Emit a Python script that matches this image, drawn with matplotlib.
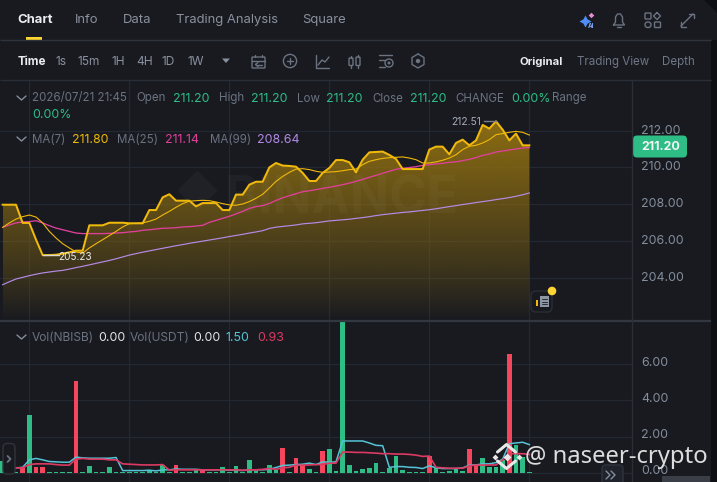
import numpy as np
import matplotlib
matplotlib.use("Agg")
import matplotlib.pyplot as plt
from matplotlib.colors import to_rgb
from matplotlib.patches import Rectangle, FancyBboxPatch, Circle, Polygon

# ---------- data ----------
price = [207.97,207.97,207.97,206.98,206.98,206.07,205.23,205.23,205.25,205.31,205.38,205.47,205.47,206.85,206.85,206.85,
         206.99,206.99,206.99,206.96,206.96,206.96,207.68,207.68,208.37,208.54,208.19,208.19,208.19,207.88,208.06,208.06,
         208.06,207.68,207.68,208.52,208.52,209.06,209.22,209.22,210.00,210.24,210.10,210.08,210.04,209.70,209.26,209.26,
         209.70,209.97,210.40,210.40,210.28,209.73,210.42,210.82,210.84,210.86,210.68,210.46,209.91,209.91,209.91,209.91,
         210.97,211.13,211.13,210.71,211.33,211.51,211.20,211.47,212.31,212.11,212.51,212.05,211.47,211.84,211.20,211.20]
ma7 = [206.74,206.98,207.19,207.32,207.41,207.30,206.98,206.52,206.16,205.85,205.62,205.40,205.34,205.62,205.85,206.07,
       206.29,206.52,206.76,206.94,206.96,206.98,207.07,207.19,207.41,207.61,207.83,208.03,208.16,208.19,208.21,208.19,
       208.12,208.03,207.96,207.94,208.01,208.14,208.32,208.54,208.88,209.24,209.51,209.73,209.91,209.93,209.88,209.79,
       209.73,209.75,209.77,209.82,209.88,209.91,210.15,210.33,210.42,210.49,210.53,210.55,210.57,210.51,210.42,210.24,
       210.24,210.30,210.39,210.51,210.69,210.97,211.15,211.20,211.33,211.51,211.78,211.84,211.91,211.96,211.91,211.76]
ma25 = [206.74,206.87,206.98,207.03,207.05,207.10,206.98,206.83,206.70,206.61,206.52,206.43,206.40,206.40,206.40,206.40,
        206.41,206.43,206.45,206.49,206.52,206.58,206.61,206.65,206.69,206.70,206.72,206.76,206.78,206.81,206.85,207.01,
        207.12,207.23,207.34,207.47,207.61,207.77,207.87,207.92,208.04,208.20,208.35,208.46,208.57,208.68,208.73,208.79,
        208.86,208.92,208.99,209.06,209.15,209.24,209.35,209.46,209.57,209.68,209.79,209.90,209.95,209.99,210.04,210.11,
        210.15,210.19,210.22,210.28,210.30,210.37,210.44,210.53,210.66,210.73,210.84,210.89,210.95,211.00,211.06,211.08]
ma99 = [203.62,203.78,203.93,204.02,204.11,204.19,204.26,204.31,204.36,204.40,204.47,204.55,204.62,204.70,204.78,204.86,
        204.94,205.03,205.13,205.23,205.31,205.39,205.46,205.53,205.60,205.67,205.74,205.80,205.87,205.93,205.99,206.05,
        206.11,206.17,206.24,206.30,206.36,206.43,206.49,206.56,206.68,206.75,206.79,206.83,206.87,206.93,206.96,206.99,
        207.04,207.09,207.12,207.15,207.18,207.23,207.27,207.32,207.38,207.43,207.47,207.51,207.55,207.58,207.62,207.66,
        207.70,207.75,207.81,207.87,207.92,207.98,208.03,208.09,208.14,208.19,208.25,208.30,208.36,208.43,208.51,208.61]
volume = [0.67,0.06,0.07,0.26,3.17,0.35,0.35,0.06,0.06,0.06,0.06,5.04,0.07,0.39,0.06,0.06,
          0.31,0.06,0.06,0.06,0.06,0.06,0.09,0.06,0.44,0.07,0.46,0.06,0.06,0.20,0.17,0.06,
          0.06,0.30,0.07,0.39,0.07,0.70,0.09,0.07,0.46,0.17,1.37,0.07,0.83,0.44,0.24,0.06,
          1.22,1.33,0.11,8.40,0.44,0.11,0.20,0.28,0.54,0.07,0.26,0.91,0.17,0.07,0.07,0.07,
          0.91,0.31,0.06,0.09,0.20,0.13,1.31,0.48,0.83,0.30,0.31,0.72,6.55,1.55,0.85,0.06]
is_up = [1,1,1,0,1,0,0,1,1,1,1,0,1,1,1,1,
         1,1,1,1,1,1,1,1,1,1,0,1,1,1,0,1,
         1,1,1,1,1,1,1,1,1,1,0,1,0,0,1,1,
         0,1,1,1,1,1,1,1,1,1,1,1,1,1,1,1,
         0,1,1,1,1,1,0,0,1,1,1,1,0,1,1,1]
vol_ma_cyan = [np.nan,np.nan,0.28,0.31,0.72,0.80,0.72,0.63,0.61,0.59,0.59,0.87,0.83,0.81,0.81,0.81,
               0.81,0.85,0.13,0.13,0.13,0.13,0.15,0.11,0.17,0.17,0.22,0.20,0.20,0.20,0.17,0.17,
               0.17,0.17,0.15,0.15,0.13,0.17,0.17,0.17,0.20,0.30,0.41,0.43,0.46,0.48,0.54,0.46,
               0.61,0.59,0.61,1.76,1.76,1.76,1.76,1.65,1.52,1.50,0.31,0.35,0.35,0.31,0.30,0.24,
               0.39,0.28,0.24,0.24,0.24,0.28,0.43,0.44,0.50,0.50,0.57,0.76,1.61,1.65,1.69,1.56]
vol_ma_red = [np.nan,np.nan,0.28,0.28,0.46,0.50,0.50,0.50,0.46,0.43,0.43,0.76,0.80,0.76,0.76,0.76,
              0.72,0.72,0.50,0.48,0.46,0.44,0.44,0.44,0.46,0.15,0.17,0.17,0.17,0.17,0.17,0.17,
              0.17,0.17,0.17,0.17,0.15,0.17,0.17,0.20,0.24,0.20,0.28,0.31,0.43,0.43,0.44,0.46,
              0.46,0.54,0.54,1.15,1.15,1.13,1.13,1.11,1.09,1.06,1.06,1.04,1.04,1.02,0.98,0.91,
              0.93,0.31,0.28,0.26,0.26,0.26,0.39,0.43,0.43,0.44,0.44,0.72,1.06,1.06,1.06,1.02]
price_ticks = [204, 206, 208, 210, 212]
vol_ticks = [0, 2, 4, 6]
tabs = ["Chart", "Info", "Data", "Trading Analysis", "Square"]
intervals = ["1s", "15m", "1H", "4H", "1D", "1W"]

# ---------- style ----------
W, H = 717, 482
BG = "#181a20"
GRID = "#242830"
LINE = "#2f343c"
GREY = "#848e9c"
MUTED = "#6b7280"
GREEN = "#2ebd85"
RED = "#f6465d"
GOLD = "#f0b90b"
LBL = 8.3
VAL = 8.9
plt.rcParams["font.family"] = ["Inter", "DejaVu Sans"]

fig = plt.figure(figsize=(W / 100, H / 100), dpi=100, facecolor=BG)

def axes_px(x0, y0, x1, y1, **kw):
    return fig.add_axes([x0 / W, 1 - y1 / H, (x1 - x0) / W, (y1 - y0) / H], **kw)

x = np.arange(len(price))
XLIM = (-0.4, 94.4)
grid_idx = [4, 19, 34, 49, 64, 79]

# ---------- price panel ----------
ax = axes_px(0, 81, 632, 320, facecolor=BG)
ax.set_xlim(*XLIM)
ax.set_ylim(201.70, 214.70)
ax.set_xticks(grid_idx)
ax.set_yticks(price_ticks)
ax.set_axisbelow(True)
ax.grid(True, color=GRID, lw=0.9, zorder=0)
ax.tick_params(length=0, labelbottom=False, labelleft=False)
for s in ax.spines.values():
    s.set_visible(False)

poly = ax.fill_between(x, price, 201.70, color="none", zorder=1)
rgb = to_rgb("#8f6f12")
alpha = 0.98 * np.linspace(1.0, 0.0, 256) ** 0.85
img = np.zeros((256, 2, 4))
img[..., :3] = rgb
img[..., 3] = alpha[:, None]
im = ax.imshow(img, extent=(x[0], x[-1], 201.70, 212.6), origin="upper", aspect="auto", zorder=1.5)
im.set_clip_path(poly.get_paths()[0], transform=ax.transData)
ax.set_xlim(*XLIM)
ax.set_ylim(201.70, 214.70)

ax.text(33.3, 208.2, "BINANCE", color="#ffffff", alpha=0.03, fontsize=37, fontweight="bold",
        va="center", ha="left", zorder=2)
ax.scatter([29.1], [208.79], marker="D", s=420, color="#ffffff", alpha=0.03, linewidths=0, zorder=2)

ax.plot(x, ma99, color="#b58ae8", lw=0.85, zorder=3)
ax.plot(x, ma25, color="#e0409b", lw=0.95, zorder=3)
ax.plot(x, ma7, color="#f0b90b", lw=0.8, zorder=4)
ax.plot(x, price, color=GOLD, lw=1.45, zorder=5, solid_joinstyle="round")

ax.plot([6, 8.4], [205.23, 205.23], color="#d8d8d8", lw=1.0, zorder=6)
ax.text(8.3, 205.15, "205.23", color="#eaecef", fontsize=7.2, va="center", ha="left", zorder=7)
ax.plot([72.2, 74.0], [212.51, 212.51], color="#777e8a", lw=1.0, zorder=6)
ax.text(71.7, 212.45, "212.51", color="#a4abb6", fontsize=7.4, va="center", ha="right", zorder=7)

# ---------- volume panel ----------
vx = axes_px(0, 321, 632, 482, facecolor=BG)
vx.set_xlim(*XLIM)
vx.set_ylim(-0.50, 8.37)
vx.set_xticks(grid_idx)
vx.set_yticks(vol_ticks)
vx.set_axisbelow(True)
vx.grid(True, color=GRID, lw=0.9, zorder=0)
vx.tick_params(length=0, labelbottom=False, labelleft=False)
for s in vx.spines.values():
    s.set_visible(False)
vx.bar(x, volume, width=0.7, color=[GREEN if u else RED for u in is_up], zorder=2)
vx.plot(x, vol_ma_cyan, color="#55c4d6", lw=1.1, zorder=3)
vx.plot(x, vol_ma_red, color="#dc3a62", lw=1.2, zorder=4)

# ---------- overlay in pixel coordinates (interface chrome) ----------
ov = fig.add_axes([0, 0, 1, 1], facecolor="none")
ov.set_xlim(0, W)
ov.set_ylim(H, 0)
ov.axis("off")

def hl(y, x0=0, x1=711, c=LINE, lw=1.0):
    ov.plot([x0, x1], [y, y], color=c, lw=lw, solid_capstyle="butt")

def vl(x_, y0, y1, c=LINE, lw=1.0):
    ov.plot([x_, x_], [y0, y1], color=c, lw=lw, solid_capstyle="butt")

def T(px, py, s, c=GREY, size=8.0, weight="normal", ha="left"):
    ov.text(px, py, s, color=c, fontsize=size, fontweight=weight, ha=ha, va="center")

def icon(pts, c=MUTED, lw=1.0):
    p = np.array(pts)
    ov.plot(p[:, 0], p[:, 1], color=c, lw=lw, solid_capstyle="round", solid_joinstyle="round")

def box(x0, y0, w, h, c=MUTED, lw=1.0, fc="none", r=0.8):
    ov.add_patch(FancyBboxPatch((x0, y0), w, h, boxstyle=f"round,pad=0,rounding_size={r}",
                                ec=c, fc=fc, lw=lw))

def circ(cx, cy, r, c=MUTED, lw=1.0, fc="none"):
    ov.add_patch(Circle((cx, cy), r, ec=c, fc=fc, lw=lw))

# panel separators
hl(40)
hl(80, c="#2a2e36")
hl(320.5, c="#323740", lw=1.6)
vl(632, 80, 482, c="#2a2e36")
ov.add_patch(Rectangle((711, 40), 6, 442, fc="#0e0f13", ec="none"))
ov.add_patch(Polygon([(704, 0), (717, 0), (717, 13)], fc="#0e0f13", ec="none"))

# tabs
tab_x = [17, 75, 123, 176, 302]
for i, (tx, s) in enumerate(zip(tab_x, tabs)):
    T(tx, 20, s, c="#eaecef" if i == 0 else "#8a919e", size=9.4, weight="bold" if i == 0 else "normal")
ov.add_patch(Rectangle((26, 37), 16, 3, fc="#fcd535", ec="none"))

# top-right icons
ov.scatter([585], [21], marker=(4, 1, 0), s=75, color="#4f8ef7", linewidths=0)
ov.scatter([590.5], [15], marker="D", s=8, color="#e58ad5", linewidths=0)
T(588, 25.5, "AI", c="#7aa7f5", size=4.5, weight="bold")
icon([(613.5, 25), (615.5, 22), (615.5, 17), (617.5, 14), (620.5, 14), (622.5, 17), (622.5, 22), (624.5, 25), (613.5, 25)])
icon([(617, 27), (621, 27)])
box(645, 13, 6, 6)
box(645, 22, 6, 5.5, r=2.7)
icon([(657, 12.5), (660.5, 16), (657, 19.5), (653.5, 16), (657, 12.5)])
box(654.5, 22, 6, 5.5)
icon([(681, 26), (693, 14)])
icon([(689, 13.5), (693.5, 13.5), (693.5, 18)])
icon([(681, 22), (681, 26.5), (685.5, 26.5)])

# interval row
T(18, 62, "Time", c="#eaecef", size=8.4, weight="bold")
for tx, s in zip([55, 78, 111, 136, 162, 187], intervals):
    T(tx, 62, s, c="#8a919e", size=8.6)
ov.add_patch(Polygon([(222, 58.5), (230, 58.5), (226, 63)], fc="#8a919e", ec="none"))
box(252, 57, 13, 11)
icon([(252, 60.5), (265, 60.5)])
icon([(255, 54.5), (255, 57)]); icon([(262, 54.5), (262, 57)])
icon([(255.5, 64.5), (261.5, 64.5)]); icon([(255.5, 64.5), (258, 62.5)]); icon([(255.5, 64.5), (258, 66.5)])
circ(290, 61, 6.6)
icon([(290, 58), (290, 64)]); icon([(287, 61), (293, 61)])
icon([(316, 55), (316, 68), (329, 68)])
icon([(318, 65), (322, 60), (325, 62), (329, 57)])
box(349, 58, 4, 7.5); icon([(351, 55.5), (351, 58)]); icon([(351, 65.5), (351, 68)])
box(356, 57, 4, 8.5); icon([(358, 54.5), (358, 57)]); icon([(358, 65.5), (358, 68)])
icon([(379, 54.5), (392, 54.5)]); icon([(379, 60), (385, 60)]); icon([(379, 67), (385, 67)])
circ(389, 63, 4); circ(389, 63, 0.8, fc=MUTED)
icon([(418, 54), (424, 57.5), (424, 64.5), (418, 68), (412, 64.5), (412, 57.5), (418, 54)])
circ(418, 61, 1.5, fc=MUTED)
T(519, 62, "Original", c="#eaecef", size=8.1, weight="bold")
T(577, 62, "Trading View", c="#6f7785", size=8.3)
T(662, 62, "Depth", c="#6f7785", size=8.3)

# info rows
icon([(17, 96), (21.5, 100), (26, 96)], c=GREY)
T(32, 98.5, "2026/07/21 21:45", c=MUTED, size=LBL)
for tx, lab, vx_, val in [(136, "Open", 173, "211.20"), (218.5, "High", 251.5, "211.20"),
                          (297, "Low", 326, "211.20"), (372, "Close", 410, "211.20")]:
    T(tx, 98.5, lab, c=MUTED, size=LBL)
    T(vx_, 98.5, val, c=GREEN, size=VAL)
T(455, 98.5, "CHANGE", c=MUTED, size=LBL)
T(511.5, 98.5, "0.00%", c=GREEN, size=VAL)
T(552, 98.5, "Range", c=MUTED, size=LBL)
T(32, 114.5, "0.00%", c=GREEN, size=VAL)

icon([(17, 137), (21.5, 141), (26, 137)], c=GREY)
T(32, 140, "MA(7)", c=MUTED, size=LBL)
T(72, 140, "211.80", c="#f0b90b", size=VAL)
T(117.5, 140, "MA(25)", c=MUTED, size=LBL)
T(164.5, 140, "211.14", c="#e0409b", size=VAL)
T(210, 140, "MA(99)", c=MUTED, size=LBL)
T(257, 140, "208.64", c="#b58ae8", size=VAL)

icon([(17, 335), (21.5, 339), (26, 335)], c=GREY)
T(32, 338, "Vol(NBISB)", c=MUTED, size=8.6)
T(98, 338, "0.00", c="#dfe2e7", size=VAL)
T(130, 338, "Vol(USDT)", c=MUTED, size=8.6)
T(193, 338, "0.00", c="#dfe2e7", size=VAL)
T(225, 338, "1.50", c="#55c4d6", size=VAL)
T(257, 338, "0.93", c="#dc3a62", size=VAL)

# axis labels
for v in price_ticks:
    ov.text(641, H - ax.transData.transform((0, v))[1], f"{v:.2f}", color=GREY, fontsize=8.9, va="center")
for v in vol_ticks:
    ov.text(641, H - vx.transData.transform((0, v))[1] - 1.5, f"{v:.2f}", color=GREY, fontsize=8.9, va="center")
ov.add_patch(FancyBboxPatch((633, 135.5), 54, 22, boxstyle="round,pad=0,rounding_size=4", fc=GREEN, ec="none"))
T(660.5, 147, "211.20", c="#f4f6f7", size=9.0, weight="bold", ha="center")

# small widgets
box(531, 291, 21, 21, c="#2a2e36", fc=BG, r=5)
ov.add_patch(Rectangle((539.5, 296), 9.5, 11, fc="#8f96a3", ec="none"))
for yy in (299, 301.5, 304):
    icon([(542, yy), (547, yy)], c="#2a2d34", lw=0.7)
ov.add_patch(Rectangle((536, 300), 2, 6, fc=GOLD, ec="none"))
circ(552, 291, 4.3, c="#fcd535", fc="#fcd535", lw=0)
box(3, 443.5, 12, 30.5, c="#2f343c", fc=BG, r=4)
icon([(7.5, 456), (10.5, 459), (7.5, 462)], c=MUTED, lw=1.3)
box(602, 465, 21, 24, c="#2f343c", fc="#20232b", r=4)
icon([(606, 471), (610, 475), (606, 479)], c=GREY)
icon([(611, 471), (615, 475), (611, 479)], c=GREY)
ov.add_patch(Rectangle((662, 476), 48, 6, fc="#3a3e46", ec="none"))

# watermark
icon([(497.5, 452), (506.5, 444.5), (515.5, 452)], c="#e8e8e8", lw=2.2)
icon([(497.5, 461), (506.5, 468.5), (515.5, 461)], c="#e8e8e8", lw=2.2)
for cx, s in [(494.5, 9), (506.5, 16), (518.5, 9)]:
    ov.scatter([cx], [456.5], marker="D", s=s, color="#e8e8e8", linewidths=0)
ov.text(525, 457, "@ naseer-crypto", color="#dcdcdc", fontsize=17.2, va="center", ha="left",
        family=["Noto Sans", "DejaVu Sans"])

fig.savefig("out.png", dpi=100, facecolor=BG)
